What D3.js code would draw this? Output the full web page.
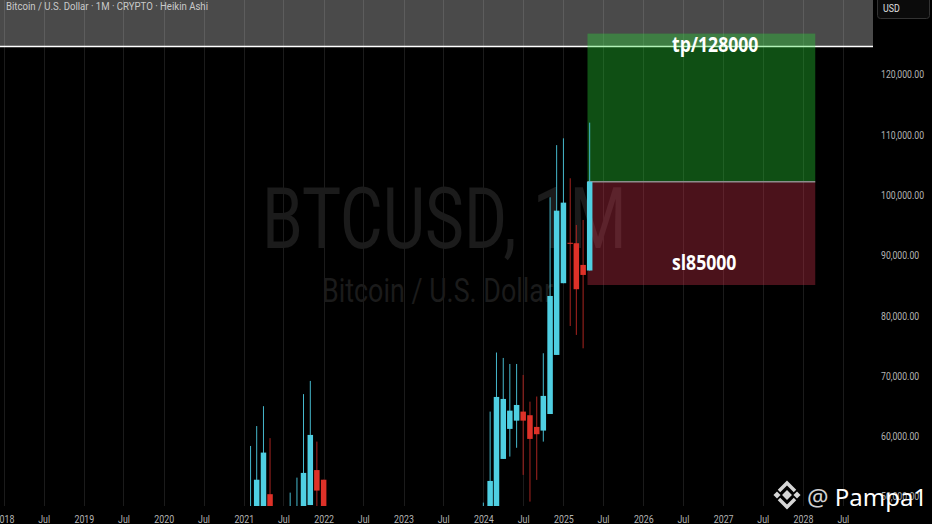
<!DOCTYPE html>
<html>
<head>
<meta charset="utf-8">
<script src="https://cdn.jsdelivr.net/npm/d3@7"></script>
<style>
  html, body { margin: 0; padding: 0; background: #000; }
  svg { display: block; }
</style>
</head>
<body>
<div id="chart"></div>
<script>
// monthly heikin ashi candles (only the months that show above the 50k cut)
var months = ["2021-02","2021-03","2021-04","2021-05","2021-08","2021-09","2021-10","2021-11","2021-12","2022-01",
              "2024-01","2024-02","2024-03","2024-04","2024-05","2024-06","2024-07","2024-08","2024-09","2024-10",
              "2024-11","2024-12","2025-01","2025-02","2025-03","2025-04","2025-05"];
var opens  = [30500, 36350, 44500, 50300, 36000, 40000, 42700, 48500, 54300, 52700,
              38000, 40250, 46400, 56150, 61130, 62500, 64000, 63400, 61460, 60850,
              63600, 73400, 85300, 92000, 91930, 88330, 87400];
var highs  = [58300, 61600, 64900, 59600, 50560, 53050, 66900, 69090, 59020, 52700,
              48900, 64000, 73800, 72900, 71900, 71900, 70080, 65650, 66500, 73680,
              99550, 108200, 109330, 102700, 94960, 95790, 111930];
var lows   = [30500, 36350, 44500, 30000, 29000, 39600, 42700, 48500, 42000, 35000,
              38000, 40250, 46400, 56150, 56540, 58000, 53500, 49070, 52670, 59020,
              63600, 73400, 85300, 78200, 76720, 74500, 87400];
var closes = [42200, 52700, 57200, 46000, 44000, 45500, 53830, 60130, 50900, 41000,
              42500, 52500, 66430, 66100, 64160, 65100, 62500, 59470, 60250, 66600,
              83180, 97330, 98660, 91900, 84300, 86670, 102140];

// long position box
var posStart = "2025-04-21", posEnd = "2028-02-26";
var entryPrice = 102140, tpPrice = 126700, slPrice = 85000;
var tpLabel = "tp/128000", slLabel = "sl85000";

var priceTicks = [50000, 60000, 70000, 80000, 90000, 100000, 110000, 120000];

var svgWidth = 932, svgHeight = 524;
var plotRight = 873, plotBottom = 506;
var SQ = 0.8; // the screenshot is horizontally squashed

var svg = d3.select("#chart").append("svg")
    .attr("width", svgWidth)
    .attr("height", svgHeight)
    .style("font-family", "Roboto, 'Noto Sans', sans-serif");

svg.append("rect").attr("width", svgWidth).attr("height", svgHeight).attr("fill", "#000");

var parse = d3.utcParse("%Y-%m");
var parseDay = d3.utcParse("%Y-%m-%d");

var x = d3.scaleUtc()
    .domain([new Date(Date.UTC(2018, 0, 1)), new Date(Date.UTC(2028, 0, 1))])
    .range([4, 803]);

var y = d3.scaleLinear()
    .domain([50000, 120000])
    .range([496, 74]);

var tickDates = d3.utcMonth.every(6).range(new Date(Date.UTC(2018, 0, 1)), new Date(Date.UTC(2028, 7, 1)));

// vertical grid
svg.append("g").selectAll("line")
    .data(tickDates)
    .enter()
    .append("line")
    .attr("x1", d => Math.round(x(d)) + 0.5)
    .attr("x2", d => Math.round(x(d)) + 0.5)
    .attr("y1", 0)
    .attr("y2", plotBottom)
    .attr("stroke", "#1b1b1b")
    .attr("stroke-width", 1);

// watermark
svg.append("text")
    .attr("transform", "translate(262,248) scale(0.77,1)")
    .attr("font-size", 85)
    .attr("fill", "#1b1b1b")
    .text("BTCUSD, 1M");

svg.append("text")
    .attr("transform", "translate(322,302) scale(0.79,1)")
    .attr("font-size", 34)
    .attr("fill", "#1b1b1b")
    .text("Bitcoin / U.S. Dollar");

// grey header band + white line
svg.append("rect")
    .attr("x", 0).attr("y", 0)
    .attr("width", plotRight).attr("height", 46)
    .attr("fill", "#fff").attr("opacity", 0.29);

svg.append("line")
    .attr("x1", 0).attr("x2", plotRight)
    .attr("y1", 46.5).attr("y2", 46.5)
    .attr("stroke", "#fff").attr("stroke-width", 1.5);

// position box
var bx0 = x(parseDay(posStart)), bx1 = x(parseDay(posEnd));

svg.append("rect")
    .attr("x", bx0).attr("width", bx1 - bx0)
    .attr("y", y(tpPrice)).attr("height", y(entryPrice) - y(tpPrice))
    .attr("fill", "#2adb37").attr("opacity", 0.36);

svg.append("rect")
    .attr("x", bx0).attr("width", bx1 - bx0)
    .attr("y", y(entryPrice)).attr("height", y(slPrice) - y(entryPrice))
    .attr("fill", "#d0324a").attr("opacity", 0.36);

svg.append("line")
    .attr("x1", bx0).attr("x2", bx1)
    .attr("y1", y(entryPrice)).attr("y2", y(entryPrice))
    .attr("stroke", "#8c8c8c").attr("stroke-width", 1.5);

// candles (on top of the box)
svg.append("clipPath").attr("id", "plotClip")
    .append("rect").attr("x", 0).attr("y", 0).attr("width", plotRight).attr("height", plotBottom);

var candles = months.map((m, i) => ({
    date: parse(m), o: opens[i], h: highs[i], l: lows[i], c: closes[i]
}));

var candleGroup = svg.append("g").attr("clip-path", "url(#plotClip)");
var bodyW = 5.5;

candleGroup.selectAll(".wick")
    .data(candles)
    .enter()
    .append("line")
    .attr("class", "wick")
    .attr("x1", d => x(d.date))
    .attr("x2", d => x(d.date))
    .attr("y1", d => y(d.h))
    .attr("y2", d => y(d.l))
    .attr("stroke", d => d.c >= d.o ? "#45b8cc" : "#a82420")
    .attr("stroke-width", 1);

candleGroup.selectAll(".body")
    .data(candles)
    .enter()
    .append("rect")
    .attr("class", "body")
    .attr("x", d => x(d.date) - bodyW / 2)
    .attr("width", bodyW)
    .attr("y", d => y(Math.max(d.o, d.c)))
    .attr("height", d => Math.max(1, Math.abs(y(d.o) - y(d.c))))
    .attr("fill", d => d.c >= d.o ? "#4fcfe2" : "#de3128");

svg.append("text")
    .attr("transform", `translate(672,52) scale(${SQ},1)`)
    .attr("font-family", "'Open Sans', sans-serif")
    .attr("font-weight", 700)
    .attr("font-size", 22)
    .attr("fill", "#fff")
    .text(tpLabel);

svg.append("text")
    .attr("transform", `translate(672,270) scale(${SQ},1)`)
    .attr("font-family", "'Open Sans', sans-serif")
    .attr("font-weight", 700)
    .attr("font-size", 22)
    .attr("fill", "#fff")
    .text(slLabel);

// header title
svg.append("text")
    .attr("x", 6).attr("y", 10)
    .attr("font-size", 11)
    .attr("fill", "#c9c9c9")
    .attr("textLength", 202)
    .attr("lengthAdjust", "spacingAndGlyphs")
    .text("Bitcoin / U.S. Dollar · 1M · CRYPTO · Heikin Ashi");

// x axis
var xAxis = d3.axisBottom(x)
    .tickValues(tickDates)
    .tickSize(0)
    .tickFormat(d => d.getUTCMonth() === 0 ? d.getUTCFullYear() : "Jul");

var gx = svg.append("g").call(xAxis);
gx.select(".domain").remove();
gx.selectAll("text")
    .attr("y", 0).attr("dy", null)
    .attr("transform", `translate(0,523) scale(${SQ},1)`)
    .attr("font-size", 11)
    .attr("font-family", "Roboto, sans-serif")
    .attr("fill", "#b4b4b4");

// y axis
var yAxis = d3.axisRight(y)
    .tickValues(priceTicks)
    .tickSize(0)
    .tickFormat(d3.format(",.2f"));

var gy = svg.append("g").attr("transform", "translate(881,0)").call(yAxis);
gy.select(".domain").remove();
gy.selectAll("text")
    .attr("x", 0).attr("dy", "0.35em")
    .attr("transform", "scale(0.79,1)")
    .attr("font-size", 11)
    .attr("font-family", "Roboto, sans-serif")
    .attr("fill", "#b4b4b4");

// USD box
svg.append("rect")
    .attr("x", 877.5).attr("y", -4.5)
    .attr("width", 52).attr("height", 23)
    .attr("rx", 3)
    .attr("fill", "#0b0b0b")
    .attr("stroke", "#333");

svg.append("text")
    .attr("transform", `translate(883,12) scale(${SQ},1)`)
    .attr("font-size", 11)
    .attr("fill", "#e0e0e0")
    .text("USD");

// author stamp
var logo = svg.append("g").attr("transform", "translate(787,495)").attr("fill", "#d6d6d6");
logo.append("rect").attr("x", -3.5).attr("y", -3.5).attr("width", 7).attr("height", 7).attr("transform", "rotate(45)");
logo.append("rect").attr("x", -2.5).attr("y", -2.5).attr("width", 5).attr("height", 5).attr("transform", "translate(-10,0) rotate(45)");
logo.append("rect").attr("x", -2.5).attr("y", -2.5).attr("width", 5).attr("height", 5).attr("transform", "translate(10,0) rotate(45)");
logo.append("path").attr("d", "M-8,-4 L0,-12 L8,-4").attr("fill", "none").attr("stroke", "#d6d6d6").attr("stroke-width", 3.5);
logo.append("path").attr("d", "M-8,4 L0,12 L8,4").attr("fill", "none").attr("stroke", "#d6d6d6").attr("stroke-width", 3.5);

var stamp = svg.append("text")
    .attr("x", 807).attr("y", 506)
    .attr("font-family", "'Noto Sans', sans-serif")
    .attr("font-size", 24);
stamp.append("tspan").attr("fill", "#d0d0d0").text("@ ");
stamp.append("tspan").attr("fill", "#fff").text("Pampa1");
</script>
</body>
</html>
